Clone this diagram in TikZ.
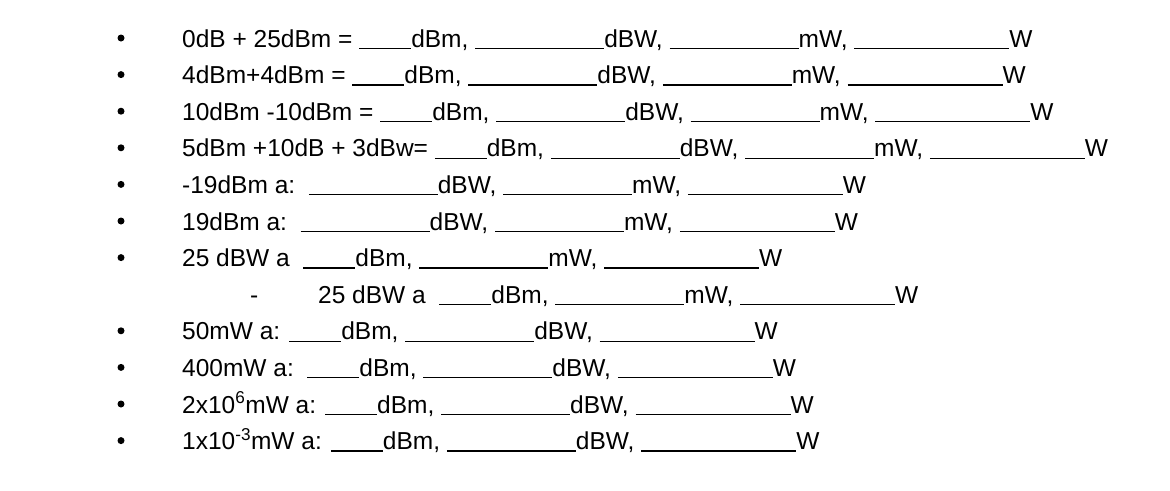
\documentclass[tikz,border=0pt]{standalone}
\usepackage{fontspec}
\setmainfont{Liberation Sans}
\begin{document}
\begin{tikzpicture}[x=1pt,y=-1pt,
  txt/.style={anchor=base west,inner sep=0pt,font=\fontsize{24.5}{28}\selectfont},
  bul/.style={circle,fill=black,inner sep=0pt,minimum size=7pt}]
\useasboundingbox (0,0) rectangle (1170,490);
\def\U#1{\rule[-2pt]{#1pt}{1.2pt}}
\def\A{\U{52}}\def\B{\U{129}}\def\C{\U{155}}
\foreach \i/\n in {0/1,1/2,2/3,3/4,4/5,5/6,6/7,8/9,9/10,10/11,11/12}
  \node[bul] (b\n) at (121,47+36.6*\i-9) {};
\node[txt] (l1) at (182,47) {0dB + 25dBm = \A dBm, \B dBW, \B mW, \C W};
\node[txt] (l2) at (182,83.6) {4dBm+4dBm = \A dBm, \B dBW, \B mW, \C W};
\node[txt] (l3) at (182,120.2) {10dBm -10dBm = \A dBm, \B dBW, \B mW, \C W};
\node[txt] (l4) at (182,156.8) {5dBm +10dB + 3dBw= \A dBm, \B dBW, \B mW, \C W};
\node[txt] (l5) at (182,193.4) {-19dBm a:\ \ \B dBW, \B mW, \C W};
\node[txt] (l6) at (182,230) {19dBm a:\ \ \B dBW, \B mW, \C W};
\node[txt] (l7) at (182,266.6) {25 dBW a\ \ \A dBm, \B mW, \C W};
\node[txt] (d8) at (250,303.2) {-};
\node[txt] (l8) at (318,303.2) {25 dBW a\ \ \A dBm, \B mW, \C W};
\node[txt] (l9) at (182,339.8) {50mW a: \A dBm, \B dBW, \C W};
\node[txt] (l10) at (182,376.4) {400mW a:\ \ \A dBm, \B dBW, \C W};
\node[txt] (l11) at (182,413) {2x10\textsuperscript{6}mW a: \A dBm, \B dBW, \C W};
\node[txt] (l12) at (182,449.6) {1x10\textsuperscript{-3}mW a: \A dBm, \B dBW, \C W};
\end{tikzpicture}
\end{document}
